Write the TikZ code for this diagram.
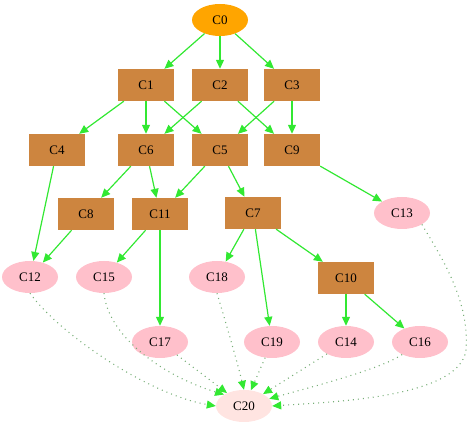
\documentclass[tikz,border=0pt]{standalone}
\usepackage{fontspec}
\setmainfont{Liberation Serif}
\usetikzlibrary{shapes.geometric,arrows.meta}
\definecolor{edgegreen}{RGB}{50,232,50}
\definecolor{dotgreen}{RGB}{120,175,120}
\definecolor{boxfill}{RGB}{205,133,63}
\definecolor{pinkfill}{RGB}{255,192,203}
\definecolor{rosefill}{RGB}{255,228,225}
\definecolor{orangefill}{RGB}{255,165,0}
\begin{document}
\begin{tikzpicture}[x=1pt,y=-1pt,
  base/.style={minimum width=56pt,minimum height=32pt,inner sep=0pt,font=\fontsize{13}{15}\selectfont},
  boxnode/.style={base,rectangle,fill=boxfill},
  pinknode/.style={base,ellipse,fill=pinkfill},
  topnode/.style={base,ellipse,fill=orangefill},
  sinknode/.style={base,ellipse,fill=rosefill},
  link/.style={draw=edgegreen,line width=1.2pt,-{Triangle[length=9pt,width=8pt]}},
  dlink/.style={draw=dotgreen,line width=1.1pt,dash pattern=on 1pt off 4pt,-{Triangle[length=9pt,width=8pt,color=edgegreen,fill=edgegreen]}}
]
\useasboundingbox (0,0) rectangle (474,427);
\node[topnode] (C0) at (220,20) {C0};
\node[boxnode] (C1) at (146,85) {C1};
\node[boxnode] (C2) at (220,85) {C2};
\node[boxnode] (C3) at (292,85) {C3};
\node[boxnode] (C4) at (57,150) {C4};
\node[boxnode] (C6) at (146,150) {C6};
\node[boxnode] (C5) at (220,150) {C5};
\node[boxnode] (C9) at (292,150) {C9};
\node[boxnode] (C8) at (86,214) {C8};
\node[boxnode] (C11) at (160,214) {C11};
\node[boxnode] (C7) at (253,213) {C7};
\node[pinknode] (C13) at (402,213) {C13};
\node[pinknode] (C12) at (30,277) {C12};
\node[pinknode] (C15) at (104,277) {C15};
\node[pinknode] (C18) at (217,277) {C18};
\node[boxnode] (C10) at (346,278) {C10};
\node[pinknode] (C17) at (160,342) {C17};
\node[pinknode] (C19) at (272,342) {C19};
\node[pinknode] (C14) at (346,342) {C14};
\node[pinknode] (C16) at (420,342) {C16};
\node[sinknode] (C20) at (244,406) {C20};

\draw[link] (C0) -- (C1);
\draw[link] (C0) -- (C2);
\draw[link] (C0) -- (C3);
\draw[link] (C1) -- (C4);
\draw[link] (C1) -- (C6);
\draw[link] (C1) -- (C5);
\draw[link] (C2) -- (C6);
\draw[link] (C2) -- (C9);
\draw[link] (C3) -- (C5);
\draw[link] (C3) -- (C9);
\draw[link] (C6) -- (C8);
\draw[link] (C6) -- (C11);
\draw[link] (C5) -- (C11);
\draw[link] (C5) -- (C7);
\draw[link] (C9) -- (C13);
\draw[link] (C4) -- (C12);
\draw[link] (C8) -- (C12);
\draw[link] (C11) -- (C15);
\draw[link] (C11) -- (C17);
\draw[link] (C7) -- (C18);
\draw[link] (C7) -- (C19);
\draw[link] (C7) -- (C10);
\draw[link] (C10) -- (C14);
\draw[link] (C10) -- (C16);

\draw[dlink] (C12.south) .. controls (60,335) and (150,395) .. (C20.west);
\draw[dlink] (C15.south) .. controls (108,335) and (160,375) .. (C20.north west);
\draw[dlink] (C17) -- (C20);
\draw[dlink] (C18.south) .. controls (228,330) and (238,365) .. (C20.north);
\draw[dlink] (C19) -- (C20);
\draw[dlink] (C14) -- (C20);
\draw[dlink] (C16) .. controls (380,370) and (300,390) .. (C20);
\draw[dlink] (C13.south east) .. controls (440,255) and (470,300) .. (466,350) .. controls (460,398) and (330,402) .. (C20.east);
\end{tikzpicture}
\end{document}
